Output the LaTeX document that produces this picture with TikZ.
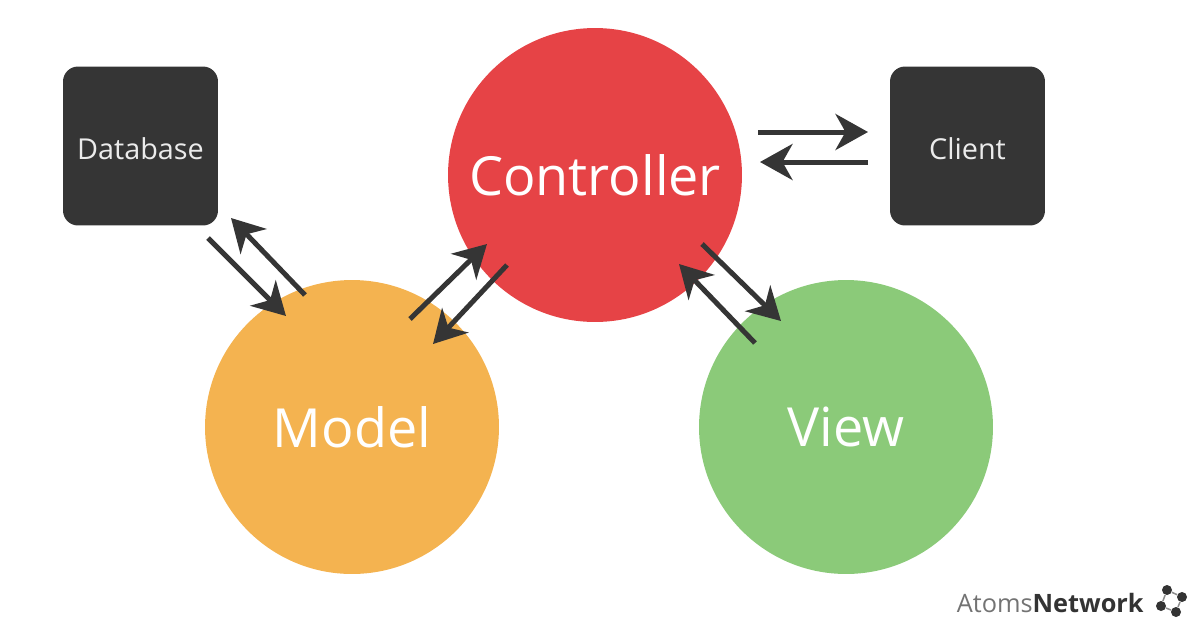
\documentclass[tikz,border=0pt]{standalone}
\usepackage{fontspec}
\setmainfont{Open Sans}
\usetikzlibrary{arrows.meta}
\definecolor{ctrlred}{HTML}{E64346}
\definecolor{modelorange}{HTML}{F4B350}
\definecolor{viewgreen}{HTML}{8BCA79}
\definecolor{boxdark}{HTML}{353535}
\tikzset{
  bubble/.style={circle,minimum size=5.88cm,inner sep=0pt,text=white,font=\fontsize{30.7}{34}\selectfont},
  darkbox/.style={rectangle,rounded corners=0.3cm,fill=boxdark,minimum width=3.1cm,minimum height=3.18cm,inner sep=0pt,text=white!92!black,text height=0.52cm,text depth=0pt,font=\fontsize{16.4}{19}\selectfont},
  flow/.style={draw=boxdark,line width=1mm,-{Stealth[length=6.5mm,width=7.2mm,inset=2mm]}},
  logodot/.style={circle,fill=black!80,minimum size=2mm,inner sep=0pt}
}
\begin{document}
\begin{tikzpicture}[x=0.02cm,y=-0.02cm]
    \useasboundingbox (0,0) rectangle (1200,630);

    % Cerchi principali
    \node[bubble,fill=ctrlred](controller) at (595,175) {Controller};
    \node[bubble,fill=modelorange](model) at (352,427) {Model};
    \node[bubble,fill=viewgreen](view) at (846,427) {View};

    % Riquadri scuri
    \node[darkbox](database) at (140.5,146) {Database};
    \node[darkbox](client) at (967.5,146) {Client};

    % Estremi delle frecce
    \coordinate (cl1) at (758,132);
    \coordinate (cl2) at (868,132);
    \coordinate (cl3) at (868,162);
    \coordinate (cl4) at (760,162);
    \coordinate (db1) at (208,238);
    \coordinate (db2) at (286,316);
    \coordinate (db3) at (305,295);
    \coordinate (db4) at (231,218);
    \coordinate (mc1) at (410,319);
    \coordinate (mc2) at (487,244);
    \coordinate (mc3) at (507,265);
    \coordinate (mc4) at (433,344);
    \coordinate (vc1) at (702,244);
    \coordinate (vc2) at (781,321);
    \coordinate (vc3) at (755,343);
    \coordinate (vc4) at (679,264);

    % Collegamenti
    \draw[flow] (cl1)--(cl2);
    \draw[flow] (cl3)--(cl4);
    \draw[flow] (db1)--(db2);
    \draw[flow] (db3)--(db4);
    \draw[flow] (mc1)--(mc2);
    \draw[flow] (mc3)--(mc4);
    \draw[flow] (vc1)--(vc2);
    \draw[flow] (vc3)--(vc4);

    % Logo in basso a destra
    \node[anchor=east,inner sep=0pt,font=\fontsize{14.4}{17}\selectfont,text=black!55](brand) at (1144,603) {Atoms\textcolor{black!80}{\textbf{Network}}};
    \node[logodot](dota) at (1167,590) {};
    \node[logodot](dotb) at (1182,597) {};
    \node[logodot](dotc) at (1161,606) {};
    \node[logodot](dotd) at (1176,612) {};
    \draw[black!45,line width=0.3mm] (dota)--(dotb);
    \draw[black!45,line width=0.3mm] (dotb)--(dotd);
    \draw[black!45,line width=0.3mm] (dotd)--(dotc);
    \draw[black!45,line width=0.3mm] (dotc)--(dota);
\end{tikzpicture}
\end{document}
